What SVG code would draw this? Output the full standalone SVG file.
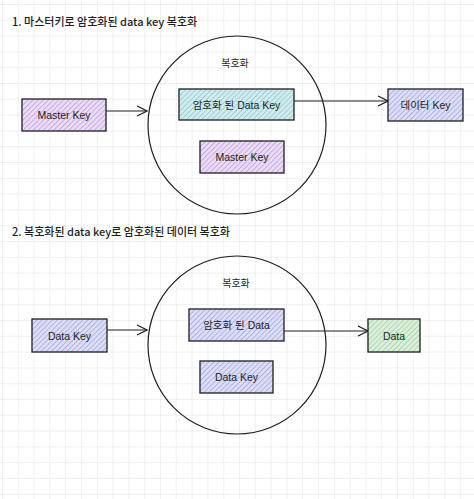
<svg xmlns="http://www.w3.org/2000/svg" width="474" height="499" viewBox="0 0 474 499">
<defs>
  <pattern id="grid" width="15.8" height="15.8" patternUnits="userSpaceOnUse" x="2" y="4">
    <path d="M0 0H15.8M0 0V15.8" fill="none" stroke="#e2e2e2" stroke-width="1"/>
  </pattern>
  <pattern id="hPurple" width="3.6" height="3.6" patternUnits="userSpaceOnUse" patternTransform="rotate(45)">
    <rect width="3.6" height="3.6" fill="#eadcf5"/>
    <line x1="0" y1="0" x2="0" y2="3.6" stroke="#bb90de" stroke-width="1.3"/>
  </pattern>
  <pattern id="hCyan" width="3.6" height="3.6" patternUnits="userSpaceOnUse" patternTransform="rotate(45)">
    <rect width="3.6" height="3.6" fill="#d2ecee"/>
    <line x1="0" y1="0" x2="0" y2="3.6" stroke="#80c2cb" stroke-width="1.3"/>
  </pattern>
  <pattern id="hBlue" width="3.6" height="3.6" patternUnits="userSpaceOnUse" patternTransform="rotate(45)">
    <rect width="3.6" height="3.6" fill="#dcdef6"/>
    <line x1="0" y1="0" x2="0" y2="3.6" stroke="#989de2" stroke-width="1.3"/>
  </pattern>
  <pattern id="hGreen" width="3.6" height="3.6" patternUnits="userSpaceOnUse" patternTransform="rotate(45)">
    <rect width="3.6" height="3.6" fill="#dcefdc"/>
    <line x1="0" y1="0" x2="0" y2="3.6" stroke="#94cc94" stroke-width="1.3"/>
  </pattern>
  <marker id="arr" viewBox="0 0 12 12" refX="11" refY="6" markerWidth="12" markerHeight="12" markerUnits="userSpaceOnUse" orient="auto">
    <path d="M1 1 L11 6 L1 11" fill="none" stroke="#1e1e1e" stroke-width="1.2"/>
  </marker>
</defs>
<style>
  .box { stroke: #1e1e1e; stroke-width: 1.3; }
  .circ { fill: none; stroke: #1e1e1e; stroke-width: 1.2; }
  .lbl { font-family: "Liberation Sans", "Noto Sans CJK KR", sans-serif; font-size: 10.5px; fill: #1e1e1e; text-anchor: middle; dominant-baseline: central; }
  .title { font-family: "Noto Sans CJK KR", "Liberation Sans", sans-serif; font-size: 11px; fill: #1e1e1e; font-weight: 500; }
  .cap { font-family: "Noto Sans CJK KR", sans-serif; font-size: 10px; fill: #1e1e1e; text-anchor: middle; }
  .conn { fill: none; stroke: #1e1e1e; stroke-width: 1.2; marker-end: url(#arr); }
</style>
<rect width="474" height="499" fill="#ffffff"/>
<rect width="474" height="499" fill="url(#grid)"/>

<text class="title" x="12" y="26">1. 마스터키로 암호화된 data key 복호화</text>
<text class="title" x="12" y="236">2. 복호화된 data key로 암호화된 데이터 복호화</text>

<g id="circle1">
  <ellipse class="circ" cx="237" cy="125" rx="89" ry="89"/>
  <text class="cap" x="235" y="67">복호화</text>
</g>
<g id="circle2">
  <ellipse class="circ" cx="237" cy="345" rx="89" ry="89"/>
  <text class="cap" x="236" y="287">복호화</text>
</g>

<g id="connectors">
  <path class="conn" d="M106 111 L147 111"/>
  <path class="conn" d="M294 101 L388 101"/>
  <path class="conn" d="M107 330 L147 330"/>
  <path class="conn" d="M284 331 L368 331"/>
</g>

<g id="masterKey1">
  <rect class="box" x="22" y="99" width="84" height="32" fill="url(#hPurple)"/>
  <text class="lbl" x="64" y="115">Master Key</text>
</g>
<g id="encDataKey">
  <rect class="box" x="179" y="89" width="115" height="31" fill="url(#hCyan)"/>
  <text class="lbl" x="236.5" y="105">암호화 된 Data Key</text>
</g>
<g id="masterKey2">
  <rect class="box" x="200" y="141" width="84" height="32" fill="url(#hPurple)"/>
  <text class="lbl" x="242" y="157">Master Key</text>
</g>
<g id="dataKeyOut">
  <rect class="box" x="388" y="89" width="75" height="32" fill="url(#hBlue)"/>
  <text class="lbl" x="425.5" y="105">데이터 Key</text>
</g>

<g id="dataKey1">
  <rect class="box" x="32" y="319" width="75" height="33" fill="url(#hBlue)"/>
  <text class="lbl" x="69.5" y="336">Data Key</text>
</g>
<g id="encData">
  <rect class="box" x="189" y="309" width="95" height="32" fill="url(#hBlue)"/>
  <text class="lbl" x="236.5" y="325">암호화 된 Data</text>
</g>
<g id="dataKey2">
  <rect class="box" x="200" y="361" width="73" height="32" fill="url(#hBlue)"/>
  <text class="lbl" x="236.5" y="377">Data Key</text>
</g>
<g id="dataOut">
  <rect class="box" x="368" y="319" width="52" height="33" fill="url(#hGreen)"/>
  <text class="lbl" x="394" y="336">Data</text>
</g>
</svg>
